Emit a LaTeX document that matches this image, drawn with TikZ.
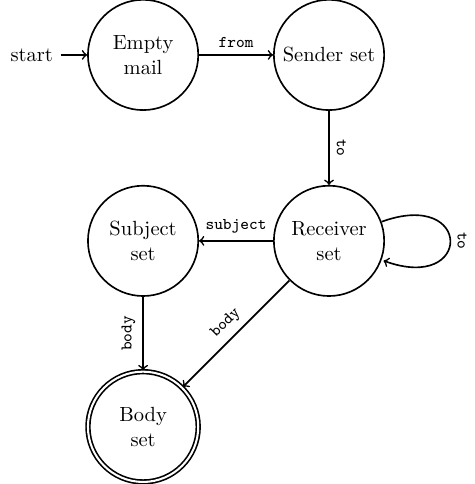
\documentclass[tikz,border=0pt]{standalone}
\usetikzlibrary{automata,positioning,arrows.meta}

\begin{document}
\begin{tikzpicture}[->, >=to, thick, node distance=90.7pt, on grid,
  st/.style={state, minimum size=53.8pt, inner sep=1pt, align=center},
  accepting/.append style={double distance=1pt},
  every loop/.append style={looseness=6.5},
  lbl/.style={font=\ttfamily\footnotesize}]
  \useasboundingbox (-69.8pt,26.8pt) rectangle (161.5pt,-209.3pt);
  \node[st, initial, initial text=start] (empty) {Empty\\mail};
  \node[st, right=of empty] (sender) {Sender set};
  \node[st, below=of sender] (receiver) {Receiver\\set};
  \node[st, left=of receiver] (subject) {Subject\\set};
  \node[st, accepting, below=of subject] (body) {Body\\set};
  \draw (empty) edge node[lbl, above] {from} (sender)
        (sender) edge node[lbl, sloped, above] {to} (receiver)
        (receiver) edge node[lbl, above] {subject} (subject)
        (receiver) edge[out=20, in=-20, loop] node[lbl, sloped, above] {to} ()
        (subject) edge node[lbl, rotate=90, anchor=south] {body} (body)
        (receiver) edge node[lbl, sloped, above] {body} (body);
\end{tikzpicture}
\end{document}
